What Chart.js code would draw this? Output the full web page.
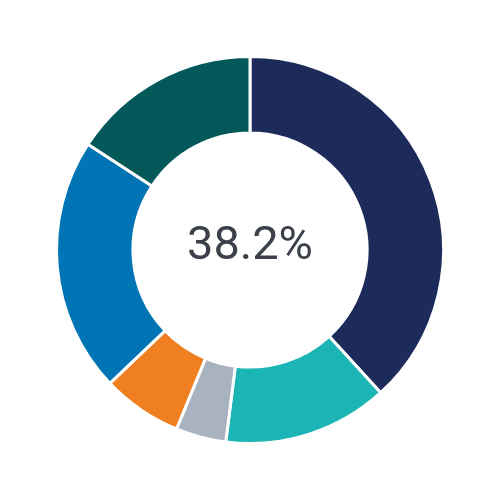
<!DOCTYPE html>
<html>
<head>
<meta charset="utf-8">
<script src="https://cdn.jsdelivr.net/npm/chart.js@4"></script>
<style>
html,body{margin:0;padding:0;background:#fff;}
#wrap{width:500px;height:500px;}
</style>
</head>
<body>
<div id="wrap"><canvas id="c" width="500" height="500"></canvas></div>
<script>
const labels = ["Segment A","Segment B","Segment C","Segment D","Segment E","Segment F"];
const values = [38.2, 13.8, 4.2, 6.7, 21.3, 15.8];
const colors = ["#1d2b5b","#1cb5b6","#a9b3c0","#f07f21","#0074b4","#03585a"];
const centerLabel = "38.2%";

const centerText = {
  id: 'centerText',
  afterDraw(chart) {
    const meta = chart.getDatasetMeta(0);
    const arc = meta.data[0];
    const ctx = chart.ctx;
    ctx.save();
    ctx.font = '400 47px Roboto, "Liberation Sans", sans-serif';
    ctx.fillStyle = '#3b404a';
    ctx.textAlign = 'center';
    ctx.textBaseline = 'middle';
    ctx.fillText(centerLabel, arc.x, arc.y - 3);
    ctx.restore();
  }
};

new Chart(document.getElementById('c'), {
  type: 'doughnut',
  data: {
    labels: labels,
    datasets: [{
      data: values,
      backgroundColor: colors,
      borderColor: '#ffffff',
      borderWidth: 3,
      hoverOffset: 0
    }]
  },
  options: {
    responsive: false,
    devicePixelRatio: 1,
    animation: false,
    cutout: '60.5%',
    layout: { padding: 55 },
    plugins: {
      legend: { display: false },
      tooltip: { enabled: false }
    }
  },
  plugins: [centerText]
});
</script>
</body>
</html>
